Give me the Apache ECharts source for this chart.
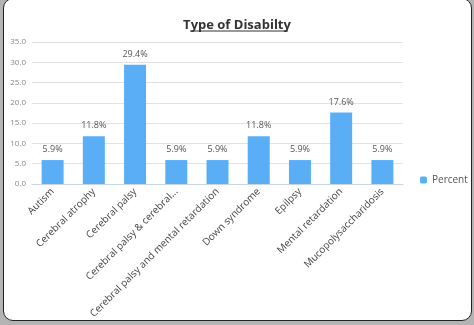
<!DOCTYPE html>
<html>
<head>
<meta charset="utf-8">
<script src="https://cdn.jsdelivr.net/npm/echarts@6/dist/echarts.min.js"></script>
<style>
    html, body { margin: 0; padding: 0; }
    body { width: 474px; height: 325px; background: #b4b4b4; position: relative; overflow: hidden; }
    #frame { position: absolute; left: 3px; top: -2px; width: 467px; height: 321px; background: #fff; border: 1px solid #222; border-radius: 10px; }
    #main { position: absolute; left: 0; top: 0; width: 474px; height: 325px; }
</style>
</head>
<body>
<div id="frame"></div>
<div id="main"></div>
<script>
var categories = ['Autism', 'Cerebral atrophy', 'Cerebral palsy', 'Cerebral palsy & cerebral...',
    'Cerebral palsy and mental retardation', 'Down syndrome', 'Epilpsy', 'Mental retardation', 'Mucopolysaccharidosis'];
var percent = [5.9, 11.8, 29.4, 5.9, 5.9, 11.8, 5.9, 17.6, 5.9];
var yTicks = { min: 0, max: 35, interval: 5 };

var myChart = echarts.init(document.getElementById('main'));

var option = {
    animation: false,
    backgroundColor: 'transparent',
    title: {
        text: 'Type of Disabilty',
        left: 'center',
        top: 14,
        textStyle: {
            fontFamily: 'Open Sans',
            fontSize: 13,
            fontWeight: 'bold',
            color: '#333'
        }
    },
    graphic: [{
        type: 'line',
        shape: { x1: 190, y1: 31, x2: 288, y2: 31 },
        style: { stroke: '#333', lineWidth: 1 }
    }],
    legend: {
        data: ['Percent'],
        left: 420,
        top: 175,
        padding: 0,
        itemWidth: 7,
        itemHeight: 7,
        itemGap: 3,
        textStyle: { fontFamily: 'Open Sans', fontSize: 10, color: '#555' }
    },
    grid: {
        left: 32,
        right: 71,
        top: 42,
        bottom: 141,
        outerBoundsMode: 'none'
    },
    xAxis: {
        type: 'category',
        data: categories,
        axisTick: { show: false },
        axisLine: { lineStyle: { color: '#c8d4e0' } },
        axisLabel: {
            interval: 0,
            rotate: 45,
            margin: 6,
            fontFamily: 'Open Sans',
            fontSize: 10,
            color: '#444'
        }
    },
    yAxis: {
        type: 'value',
        min: yTicks.min,
        max: yTicks.max,
        interval: yTicks.interval,
        axisLine: { show: false },
        axisTick: { show: false },
        splitLine: { lineStyle: { color: '#e2e2e2' } },
        axisLabel: {
            margin: 6,
            fontFamily: 'Open Sans',
            fontSize: 8,
            color: '#888',
            formatter: function (v) { return v.toFixed(1); }
        }
    },
    series: [{
        name: 'Percent',
        type: 'bar',
        data: percent,
        barWidth: 22,
        itemStyle: { color: '#5aaef6' },
        label: {
            show: true,
            position: 'top',
            distance: 6,
            fontFamily: 'Open Sans',
            fontSize: 9,
            color: '#555',
            formatter: function (p) { return p.value.toFixed(1) + '%'; }
        }
    }]
};

myChart.setOption(option);
</script>
</body>
</html>
